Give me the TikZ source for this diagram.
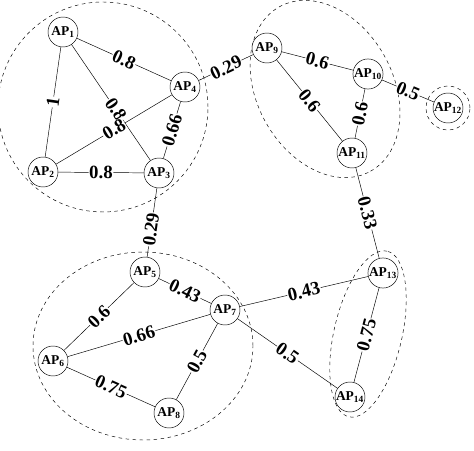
\documentclass[tikz,border=0pt]{standalone}
\usepackage{fontspec}
\setmainfont{Liberation Serif}
\usetikzlibrary{positioning}
\tikzset{
  apnode/.style={circle, draw, fill=white, minimum size=0.9cm, inner sep=0pt,
                 font=\fontsize{11.5}{11.5}\selectfont\bfseries},
  wt/.style={sloped, fill=white, inner sep=0.6pt,
             font=\fontsize{16}{16}\selectfont\bfseries},
  cluster/.style={draw, dashed, thin},
  link/.style={thin},
}
\newcommand{\apl}[1]{AP\textsubscript{#1}}

\begin{document}
\begin{tikzpicture}[x=0.03cm, y=0.03cm]
  \useasboundingbox (0,0) rectangle (474,451);

  % dashed groups
  \draw[cluster] (103,344) circle [radius=105];
  \draw[cluster, rotate around={-61:(325,362)}] (325,362) ellipse [x radius=94, y radius=68];
  \draw[cluster] (448,343) circle [radius=22];
  \draw[cluster] (143,105) ellipse [x radius=110, y radius=94];
  \draw[cluster, rotate around={77:(368,117)}] (368,117) ellipse [x radius=85, y radius=34];

  % access points
  \node[apnode] (ap1)  at (63,419)  {\apl{1}};
  \node[apnode] (ap2)  at (43,279)  {\apl{2}};
  \node[apnode] (ap3)  at (159,278) {\apl{3}};
  \node[apnode] (ap4)  at (185,364) {\apl{4}};
  \node[apnode] (ap5)  at (145,179) {\apl{5}};
  \node[apnode] (ap6)  at (53,90)   {\apl{6}};
  \node[apnode] (ap7)  at (225,141) {\apl{7}};
  \node[apnode] (ap8)  at (169,38)  {\apl{8}};
  \node[apnode] (ap9)  at (267,403) {\apl{9}};
  \node[apnode] (ap10) at (368,377) {\apl{10}};
  \node[apnode] (ap11) at (352,298) {\apl{11}};
  \node[apnode] (ap12) at (448,343) {\apl{12}};
  \node[apnode] (ap13) at (383,178) {\apl{13}};
  \node[apnode] (ap14) at (350,54)  {\apl{14}};

  % weighted links
  \draw[link] (ap1) -- node[wt] {1} (ap2);
  \draw[link] (ap1) -- node[wt] {0.8} (ap4);
  \draw[link] (ap1) -- node[wt, pos=0.56] {0.8} (ap3);
  \draw[link] (ap2) -- node[wt] {0.8} (ap4);
  \draw[link] (ap2) -- node[wt] {0.8} (ap3);
  \draw[link] (ap3) -- node[wt] {0.66} (ap4);
  \draw[link] (ap4) -- node[wt] {0.29} (ap9);
  \draw[link] (ap3) -- node[wt, pos=0.6] {0.29} (ap5);
  \draw[link] (ap9) -- node[wt] {0.6} (ap10);
  \draw[link] (ap9) -- node[wt] {0.6} (ap11);
  \draw[link] (ap10) -- node[wt] {0.6} (ap11);
  \draw[link] (ap10) -- node[wt] {0.5} (ap12);
  \draw[link] (ap11) -- node[wt] {0.33} (ap13);
  \draw[link] (ap5) -- node[wt] {0.43} (ap7);
  \draw[link] (ap5) -- node[wt] {0.6} (ap6);
  \draw[link] (ap6) -- node[wt] {0.66} (ap7);
  \draw[link] (ap6) -- node[wt] {0.75} (ap8);
  \draw[link] (ap7) -- node[wt] {0.5} (ap8);
  \draw[link] (ap7) -- node[wt] {0.43} (ap13);
  \draw[link] (ap7) -- node[wt] {0.5} (ap14);
  \draw[link] (ap13) -- node[wt] {0.75} (ap14);
\end{tikzpicture}
\end{document}
